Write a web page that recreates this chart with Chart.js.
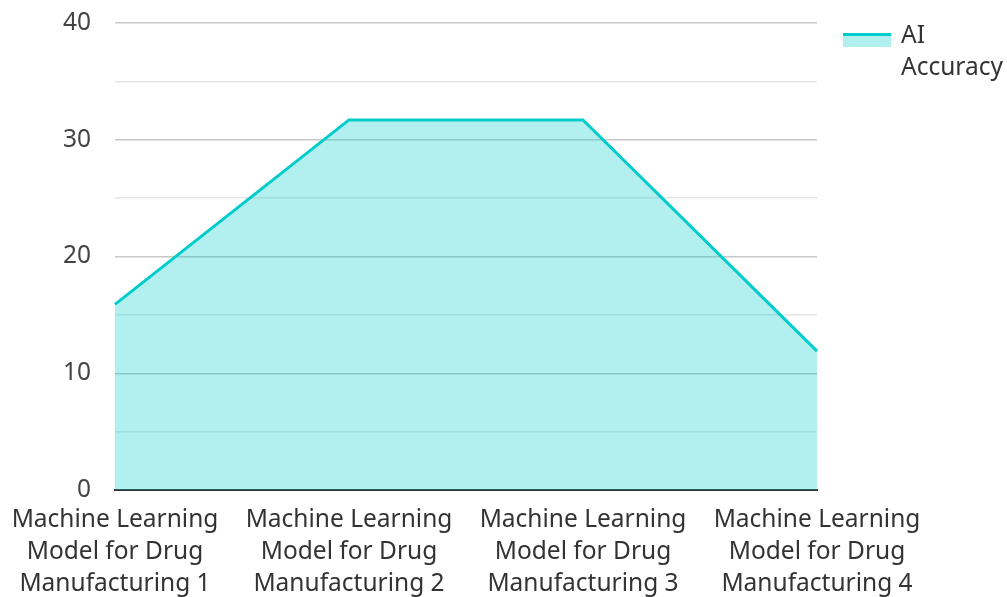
<!DOCTYPE html>
<html>
<head>
<meta charset="utf-8">
<script src="https://cdn.jsdelivr.net/npm/chart.js@4/dist/chart.umd.min.js"></script>
<style>
  html, body { margin: 0; padding: 0; background: #fff; }
  #wrap { width: 1007px; height: 597px; position: relative; }
</style>
</head>
<body>
<div id="wrap"><canvas id="accChart"></canvas></div>
<script>
// data
const labels = [
  ["Machine Learning", "Model for Drug", "Manufacturing 1"],
  ["Machine Learning", "Model for Drug", "Manufacturing 2"],
  ["Machine Learning", "Model for Drug", "Manufacturing 3"],
  ["Machine Learning", "Model for Drug", "Manufacturing 4"]
];
const accuracy = [15.9, 31.7, 31.7, 11.9];
const seriesName = ["AI", "Accuracy"];
const yTicks = [0, 10, 20, 30, 40];

const LINE = "#00cccc";
const FILL = "rgba(0,204,204,0.3)";
const FONT = "'Noto Sans', sans-serif";
const FSIZE = 24.5;

// legend drawn by hand so the name can wrap onto two lines
const sideLegend = {
  id: "sideLegend",
  afterDraw(chart) {
    const c = chart.ctx;
    const ds = chart.data.datasets[0];
    c.save();
    c.fillStyle = ds.backgroundColor;
    c.fillRect(843, 33, 48, 14);
    c.fillStyle = ds.borderColor;
    c.fillRect(843, 33, 48, 3);
    c.fillStyle = "#333";
    c.font = FSIZE + "px " + FONT;
    c.textBaseline = "middle";
    seriesName.forEach((t, i) => c.fillText(t, 901, 36 + i * 32));
    c.restore();
  }
};

new Chart(document.getElementById("accChart"), {
  type: "line",
  data: {
    labels,
    datasets: [{
      label: seriesName.join(" "),
      data: accuracy,
      borderColor: LINE,
      backgroundColor: FILL,
      borderWidth: 3,
      fill: "origin",
      tension: 0,
      pointRadius: 0
    }]
  },
  options: {
    responsive: true,
    maintainAspectRatio: false,
    animation: false,
    layout: { padding: { left: 12, right: 190, top: 23, bottom: 0 } },
    plugins: { legend: { display: false }, tooltip: { enabled: false } },
    scales: {
      x: {
        offset: false,
        grid: { display: false, drawTicks: false },
        border: { display: true, color: "#333", width: 2 },
        ticks: { color: "#333", font: { family: FONT, size: FSIZE, lineHeight: 1.31 }, padding: 14, maxRotation: 0, autoSkip: false },
        afterFit: s => { s.height = 107; s.paddingLeft = 0; s.paddingRight = 0; }
      },
      y: {
        min: 0, max: 40,
        grid: {
          drawTicks: false,
          color: ctx => (yTicks.includes(ctx.tick.value) ? "#c8c8c8" : "#e6e6e6"),
          lineWidth: 1.5
        },
        border: { display: false },
        ticks: {
          stepSize: 5,
          color: "#444",
          padding: 24,
          font: { family: FONT, size: FSIZE },
          callback: v => (yTicks.includes(v) ? v : "")
        },
        afterFit: s => { s.width = 103; s.paddingTop = 0; s.paddingBottom = 0; }
      }
    }
  },
  plugins: [sideLegend]
});
</script>
</body>
</html>
